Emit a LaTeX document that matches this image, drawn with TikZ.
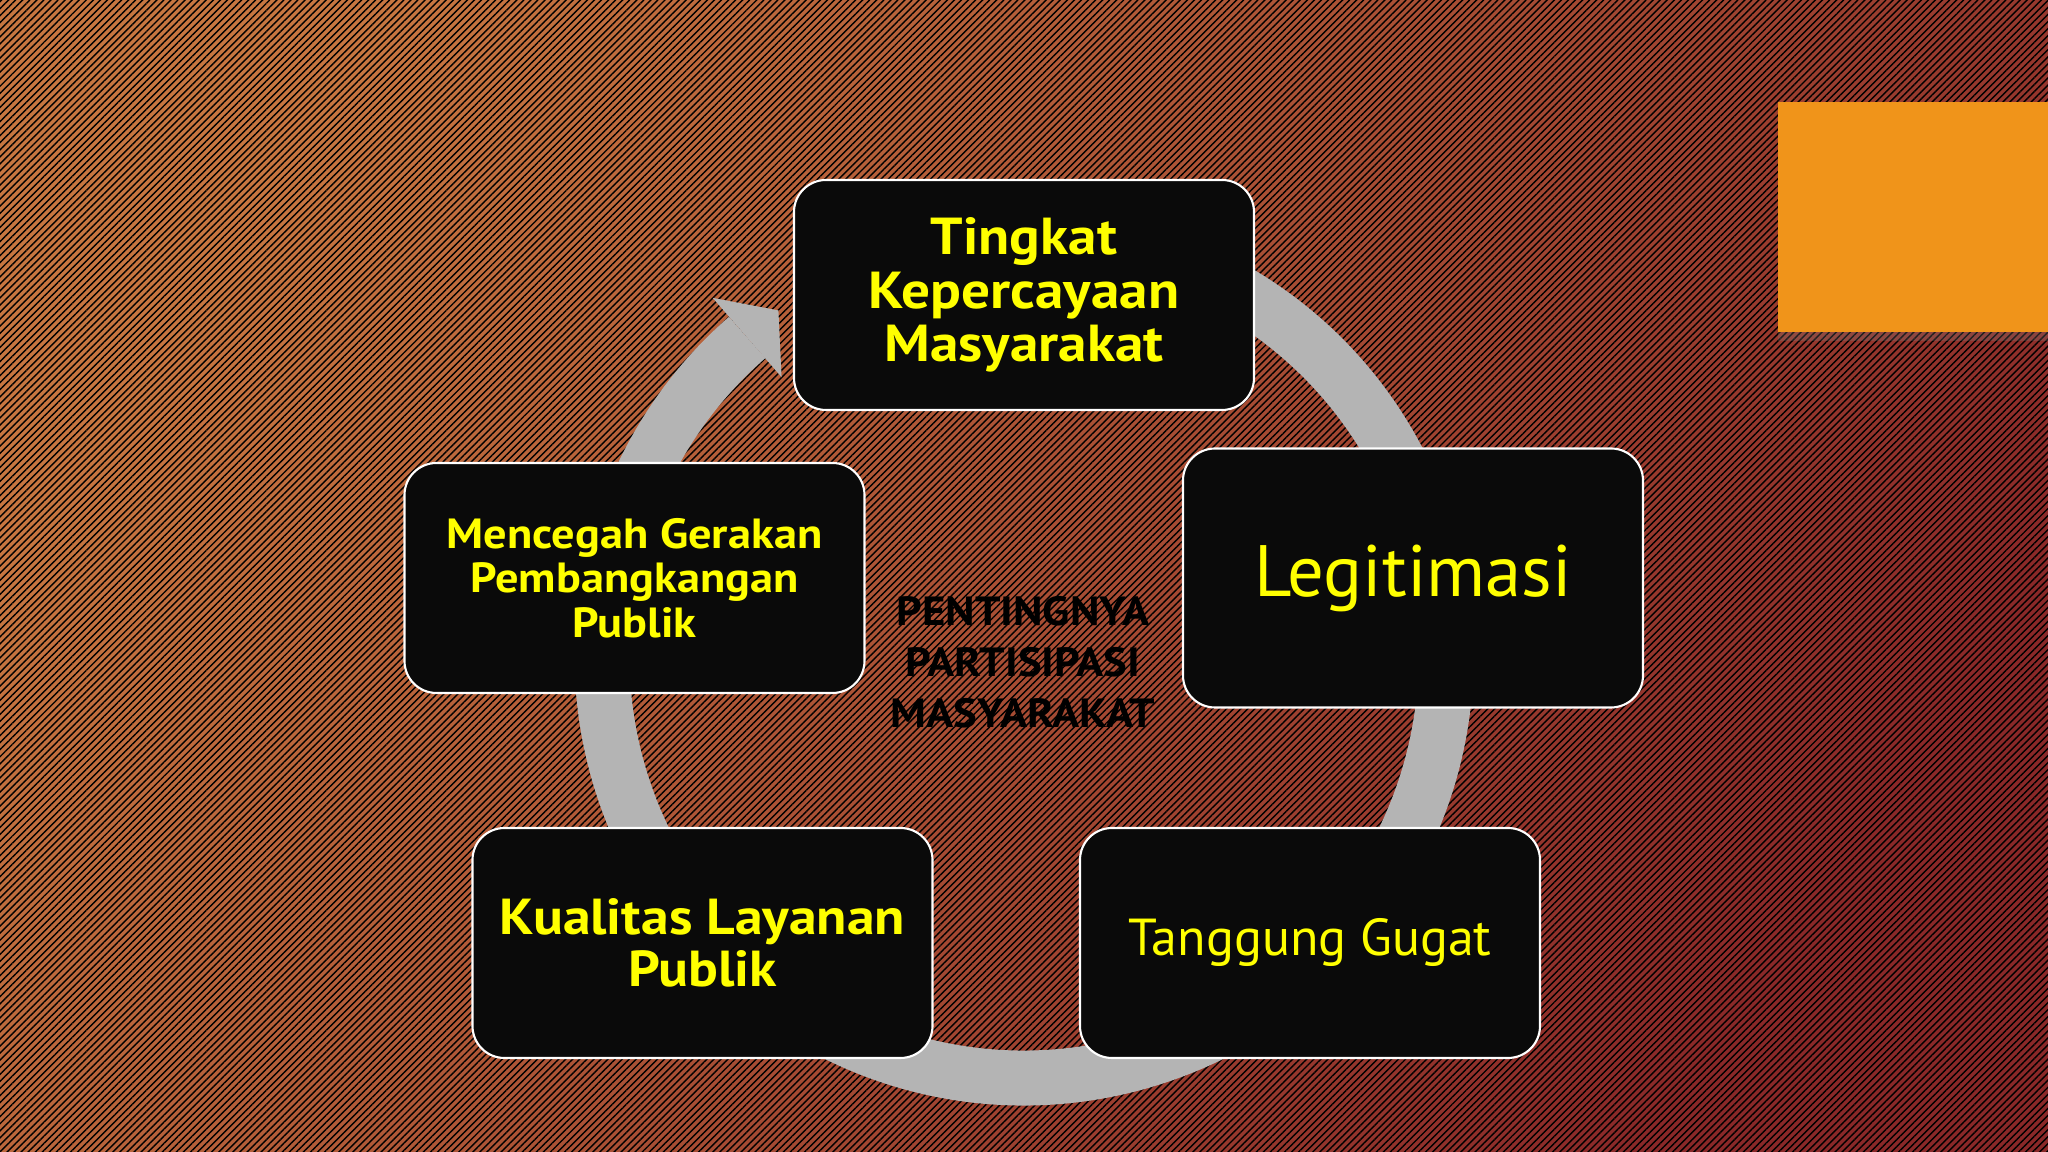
\documentclass[tikz,border=0pt]{standalone}
\usepackage{fontspec}
\setmainfont{PT Sans}
\newfontfamily\lebar[FakeStretch=1.1]{PT Sans}
\usetikzlibrary{calc,patterns.meta,shadows}
\definecolor{bgtop}{RGB}{200,118,64}
\definecolor{bgbot}{RGB}{138,40,40}
\definecolor{oranye}{RGB}{240,148,26}
\definecolor{abu}{RGB}{180,180,180}
\definecolor{kuning}{RGB}{255,255,0}
\definecolor{hitam}{RGB}{10,10,10}
\begin{document}
\begin{tikzpicture}[
    kotak/.style={draw=white, line width=.6pt, fill=hitam, rounded corners=.32cm,
        minimum width=4.6cm, minimum height=2.3cm, align=center, text=kuning},
    cincin/.style={draw=abu, line width=.55cm}
]
\useasboundingbox (0,0) rectangle (20.48,11.52);
% latar
\shade[top color=bgtop, bottom color=bgbot, shading angle=55] (0,0) rectangle (20.48,11.52);
\fill[pattern={Lines[angle=45,distance=1.42pt,line width=.4pt]}, pattern color=black, fill opacity=.4]
    (0,0) rectangle (20.48,11.52);
\fill[oranye, drop shadow={shadow xshift=0pt, shadow yshift=-2.5pt, opacity=.25}]
    (17.78,8.20) rectangle (20.48,10.50);
% siklus
\coordinate (pusat) at (10.24,4.96);
\draw[cincin] ($(pusat)+(60:4.22)$) arc[start angle=60, end angle=-229, radius=4.22];
\fill[abu] ($(pusat)+(131:3.695)$)--($(pusat)+(125.4:4.24)$)--($(pusat)+(131:4.745)$)--cycle;
% simpul
\node[kotak, font=\lebar\bfseries\fontsize{14.8}{15.3}\selectfont] (tingkat) at (10.24,8.57)
    {Tingkat\\Kepercayaan\\Masyarakat};
\node[kotak, minimum height=2.59cm, font=\fontsize{20.7}{22}\selectfont] (legit) at (14.13,5.74)
    {\raisebox{-1.2pt}{Legitimasi}};
\node[kotak, font=\fontsize{14.8}{16}\selectfont] (tanggung) at (13.10,2.09)
    {\raisebox{-1.2pt}{Tanggung Gugat}};
\node[kotak, font=\lebar\bfseries\fontsize{14.4}{15}\selectfont] (kualitas) at (7.025,2.09)
    {Kualitas Layanan\\Publik};
\node[kotak, font=\lebar\bfseries\fontsize{12}{12.6}\selectfont] (mencegah) at (6.345,5.74)
    {Mencegah Gerakan\\Pembangkangan\\Publik};
\node[align=center, text=black, font=\lebar\bfseries\fontsize{11.6}{14.5}\selectfont] (judul) at (10.23,4.90)
    {PENTINGNYA\\PARTISIPASI\\MASYARAKAT};
\end{tikzpicture}
\end{document}
